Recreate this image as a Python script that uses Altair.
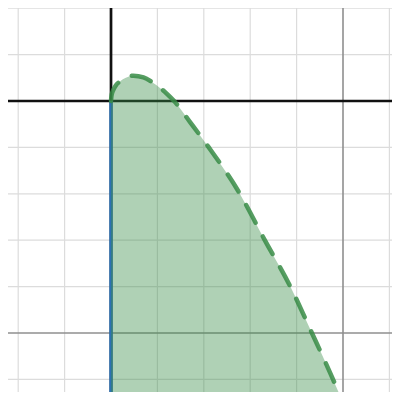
import altair as alt
import pandas as pd

# Curve (graph units)
curve_x = [0, 0.01, 0.05, 0.10, 0.19, 0.32, 0.48, 0.70, 0.91, 1.20, 1.36, 1.70, 2.10, 2.76, 3.32, 3.86, 4.33, 4.78, 4.97, 5.0]
curve_y = [0, 0.11, 0.24, 0.33, 0.42, 0.50, 0.545, 0.51, 0.39, 0.16, 0.0, -0.45, -0.99, -1.97, -3.01, -3.99, -5.0, -5.99, -6.44, -6.52]

minor_x = [-2, -1, 1, 2, 3, 4, 6]
major_x = [5]
minor_y = [2, 1, -1, -2, -3, -4, -6]
major_y = [-5]
axis_zero = [0]

fill_floor = -7.0
segment_x = [0]
segment_y_top = [0]

X_DOM = [-2.22, 6.056]
Y_DOM = [-6.272, 2.004]

xs = alt.Scale(domain=X_DOM, nice=False, zero=False)
ys = alt.Scale(domain=Y_DOM, nice=False, zero=False)

curve_df = pd.DataFrame({"x": curve_x, "y": curve_y, "floor": [fill_floor] * len(curve_x)})

def vrules(vals, color, w):
    return alt.Chart(pd.DataFrame({"v": vals})).mark_rule(color=color, strokeWidth=w).encode(
        x=alt.X("v:Q", scale=xs, axis=None))

def hrules(vals, color, w):
    return alt.Chart(pd.DataFrame({"v": vals})).mark_rule(color=color, strokeWidth=w).encode(
        y=alt.Y("v:Q", scale=ys, axis=None))

grid = (vrules(minor_x, "#dcdcdc", 1.2) + hrules(minor_y, "#dcdcdc", 1.2)
        + vrules(major_x, "#8f8f8f", 1.6) + hrules(major_y, "#8f8f8f", 1.6)
        + vrules(axis_zero, "#111111", 2.7) + hrules(axis_zero, "#111111", 2.7))

seg = alt.Chart(pd.DataFrame({"x": segment_x, "y": segment_y_top, "y2": [fill_floor]})).mark_rule(
    color="#2d70b3", strokeWidth=3.5, clip=True).encode(
    x=alt.X("x:Q", scale=xs, axis=None),
    y=alt.Y("y:Q", scale=ys, axis=None),
    y2="y2:Q")

area = alt.Chart(curve_df).mark_area(
    color="#388c46", opacity=0.4, interpolate="monotone", clip=True).encode(
    x=alt.X("x:Q", scale=xs, axis=None),
    y=alt.Y("y:Q", scale=ys, axis=None),
    y2="floor:Q")

line = alt.Chart(curve_df).mark_line(
    color="#388c46", strokeOpacity=0.85, strokeWidth=4.5, strokeDash=[20, 15.5], strokeCap="round",
    interpolate="monotone", clip=True).encode(
    x=alt.X("x:Q", scale=xs, axis=None),
    y=alt.Y("y:Q", scale=ys, axis=None))

chart = alt.layer(grid, seg, area, line).properties(
    width=384, height=384, padding=0,
    autosize=alt.AutoSizeParams(type="none")
).configure_view(stroke=None)

chart.save("out.html", embed_options={"renderer": "svg", "actions": False})
